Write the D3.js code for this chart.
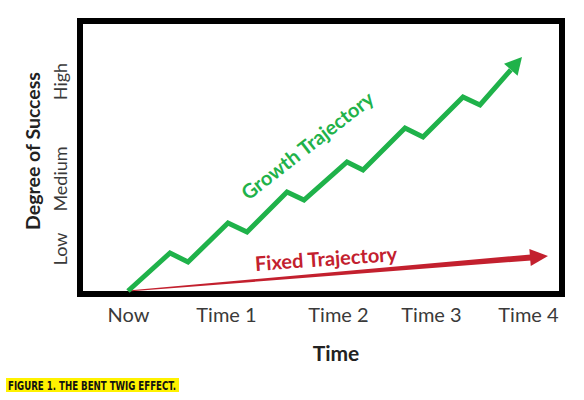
<!DOCTYPE html>
<html>
<head>
<meta charset="utf-8">
<script src="https://cdn.jsdelivr.net/npm/d3@7"></script>
<style>
  body { margin: 0; background: #fff; }
  svg { display: block; }
</style>
</head>
<body>
<script>
// Bent twig chart

const svgWidth = 584;
const svgHeight = 400;

// x axis categories and where they sit on the time scale
const timeLabels = ["Now", "Time 1", "Time 2", "Time 3", "Time 4"];
const timeValues = [0, 0.98, 2.1, 3.03, 4.0];

// y axis categories
const levelLabels = ["Low", "Medium", "High"];
const levelValues = [1.7, 4.5, 8.4];

// growth trajectory (zig zag), last point is the arrow tip
const growthX = [0, 0.42, 0.60, 1.00, 1.19, 1.59, 1.76, 2.19, 2.35, 2.77, 2.95, 3.35, 3.52, 3.94];
const growthY = [0, 1.52, 1.16, 2.72, 2.36, 3.96, 3.64, 5.16, 4.84, 6.52, 6.16, 7.76, 7.44, 9.36];

// fixed trajectory, start and arrow tip
const fixedX = [0, 4.2];
const fixedY = [0, 1.4];

const green = "#1fb24a";
const red = "#c3202e";
const font = "Lato, 'Open Sans', sans-serif";

let svg = d3.select("body")
    .append("svg")
    .attr("width", svgWidth)
    .attr("height", svgHeight);

let x = d3.scaleLinear().domain([0, 4]).range([128, 528]);
let y = d3.scaleLinear().domain([0, 10]).range([291, 41]);

// frame
svg.append("rect")
    .attr("x", 80)
    .attr("y", 21)
    .attr("width", 482)
    .attr("height", 273)
    .attr("fill", "none")
    .attr("stroke", "#000")
    .attr("stroke-width", 6);

// bottom axis labels
let xAxis = svg.append("g")
    .attr("transform", "translate(0, 305)")
    .call(d3.axisBottom(x).tickValues(timeValues).tickFormat((d, i) => timeLabels[i]).tickSize(0));
xAxis.select(".domain").remove();
xAxis.selectAll("text")
    .attr("dy", "0.71em")
    .attr("font-family", font)
    .attr("font-size", 20)
    .attr("fill", "#3a3a3a");

// left axis labels (rotated)
let yAxis = svg.append("g")
    .attr("transform", "translate(60, 0)")
    .call(d3.axisLeft(y).tickValues(levelValues).tickFormat((d, i) => levelLabels[i]).tickSize(0));
yAxis.select(".domain").remove();
yAxis.selectAll("text")
    .attr("x", 0)
    .attr("dy", 0)
    .attr("transform", "rotate(-90)")
    .attr("text-anchor", "middle")
    .attr("dominant-baseline", "central")
    .attr("font-family", font)
    .attr("font-size", 18)
    .attr("fill", "#3a3a3a");
// rotate each label around its own position
yAxis.selectAll(".tick").each(function() {
    let t = d3.select(this);
    let ty = +t.attr("transform").match(/,\s*([-\d.]+)/)[1];
    t.attr("transform", `translate(0, ${ty})`);
});

// axis titles
svg.append("text")
    .attr("x", 336)
    .attr("y", 352)
    .attr("text-anchor", "middle")
    .attr("dominant-baseline", "central")
    .attr("font-family", font)
    .attr("font-weight", "bold")
    .attr("font-size", 21)
    .attr("fill", "#222")
    .text("Time");

svg.append("text")
    .attr("transform", "translate(32, 151) rotate(-90)")
    .attr("text-anchor", "middle")
    .attr("dominant-baseline", "central")
    .attr("font-family", font)
    .attr("font-weight", "bold")
    .attr("font-size", 19.5)
    .attr("fill", "#222")
    .text("Degree of Success");

// arrowhead helper: triangle at the tip pointing along the direction
function arrowHead(x0, y0, x1, y1, len, half) {
    let dx = x1 - x0, dy = y1 - y0;
    let l = Math.sqrt(dx * dx + dy * dy);
    let ux = dx / l, uy = dy / l;
    let bx = x1 - ux * len, by = y1 - uy * len;
    return [[x1, y1], [bx - uy * half, by + ux * half], [bx + uy * half, by - ux * half]];
}

// fixed trajectory: tapering wedge + arrowhead
let fx0 = x(fixedX[0]), fy0 = y(fixedY[0]);
let fx1 = x(fixedX[1]), fy1 = y(fixedY[1]);
{
    let dx = fx1 - fx0, dy = fy1 - fy0;
    let l = Math.sqrt(dx * dx + dy * dy);
    let ux = dx / l, uy = dy / l;
    let bx = fx1 - ux * 17, by = fy1 - uy * 17;
    let w0 = 0.6, w1 = 3;
    let wedge = [
        [fx0 - uy * w0, fy0 + ux * w0],
        [bx - uy * w1, by + ux * w1],
        [bx + uy * w1, by - ux * w1],
        [fx0 + uy * w0, fy0 - ux * w0]
    ];
    svg.append("path")
        .attr("d", d3.line()(wedge) + "Z")
        .attr("fill", red);
    svg.append("path")
        .attr("d", d3.line()(arrowHead(fx0, fy0, fx1, fy1, 18, 8.5)) + "Z")
        .attr("fill", red);
}

// growth trajectory: zig zag line + arrowhead
let gPts = growthX.map((d, i) => [x(d), y(growthY[i])]);
let n = gPts.length;
let head = arrowHead(gPts[n - 2][0], gPts[n - 2][1], gPts[n - 1][0], gPts[n - 1][1], 17, 9);
let linePts = gPts.slice(0, n - 1);
// stop the line at the arrowhead base
linePts.push([(head[1][0] + head[2][0]) / 2, (head[1][1] + head[2][1]) / 2]);
svg.append("path")
    .attr("d", d3.line()(linePts))
    .attr("fill", "none")
    .attr("stroke", green)
    .attr("stroke-width", 5)
    .attr("stroke-linejoin", "miter");
svg.append("path")
    .attr("d", d3.line()(head) + "Z")
    .attr("fill", green);

// series labels
svg.append("text")
    .attr("transform", "translate(307, 145) rotate(-38)")
    .attr("text-anchor", "middle")
    .attr("dominant-baseline", "central")
    .attr("font-family", font)
    .attr("font-weight", "bold")
    .attr("font-size", 20)
    .attr("fill", green)
    .text("Growth Trajectory");

svg.append("text")
    .attr("transform", "translate(326, 258) rotate(-4)")
    .attr("text-anchor", "middle")
    .attr("dominant-baseline", "central")
    .attr("font-family", font)
    .attr("font-weight", "bold")
    .attr("font-size", 20)
    .attr("fill", red)
    .text("Fixed Trajectory");

// caption with highlight
let cap = svg.append("g").attr("transform", "translate(6, 385)");
cap.append("rect")
    .attr("x", 0)
    .attr("y", -7)
    .attr("width", 173)
    .attr("height", 14)
    .attr("fill", "#fff200");
cap.append("text")
    .attr("x", 2)
    .attr("y", 0.5)
    .attr("dominant-baseline", "central")
    .attr("font-family", "'Liberation Sans Narrow', 'DejaVu Sans Condensed', sans-serif")
    .attr("font-weight", "bold")
    .attr("font-size", 13)
    .attr("textLength", 168)
    .attr("lengthAdjust", "spacingAndGlyphs")
    .attr("fill", "#111")
    .text("FIGURE 1. THE BENT TWIG EFFECT.");
</script>
</body>
</html>
